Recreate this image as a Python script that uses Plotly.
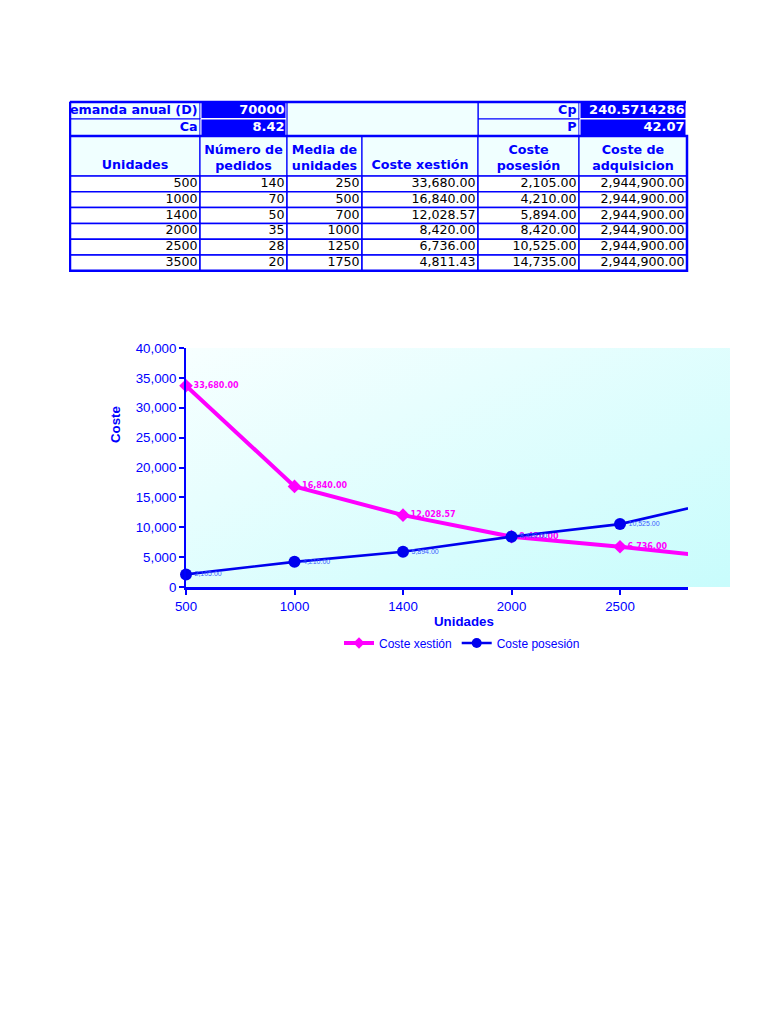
import base64
import plotly.graph_objects as go

# ---------------- data ----------------
units = [500, 1000, 1400, 2000, 2500, 3500]
num_pedidos = [140, 70, 50, 35, 28, 20]
media_unidades = [250, 500, 700, 1000, 1250, 1750]
coste_xestion = [33680.00, 16840.00, 12028.57, 8420.00, 6736.00, 4811.43]
coste_posesion = [2105.00, 4210.00, 5894.00, 8420.00, 10525.00, 14735.00]
coste_adquisicion = [2944900.00, 2944900.00, 2944900.00, 2944900.00, 2944900.00, 2944900.00]

param_labels_left = ["Demanda anual (D)", "Ca"]
param_values_left = ["70000", "8.42"]
param_labels_right = ["Cp", "P"]
param_values_right = ["240.5714286", "42.07"]

header = ["Unidades", "Número de<br>pedidos", "Media de<br>unidades",
          "Coste xestión", "Coste<br>posesión", "Coste de<br>adquisicion"]
series_names = ["Coste xestión", "Coste posesión"]
y_ticks = [0, 5000, 10000, 15000, 20000, 25000, 30000, 35000, 40000]

# ---------------- layout constants (pixels in the page) ----------------
BODY = 8                      # page body margin around the figure div
W, H = 768 - BODY, 1024 - BODY
BLUE = "#0000ff"
LIGHT = "#f0ffff"
PINK = "#ff00ff"
LINE_BLUE = "#0000ee"

TX0 = 70
col_widths = [130, 87, 75, 116, 101, 108]
col_edges = [TX0]
for w in col_widths:
    col_edges.append(col_edges[-1] + w)
TY0 = 102
param_h = 17
header_h = 40
data_h = 15.8
row_param_edges = [TY0, TY0 + param_h, TY0 + 2 * param_h]
header_top = row_param_edges[-1]
header_bot = header_top + header_h
data_edges = [header_bot + i * data_h for i in range(len(units) + 1)]
table_bottom = data_edges[-1]
PAD = 2.5


def px(x):
    return (x - BODY) / W


def py(y):
    return 1 - (y - BODY) / H


fig = go.Figure()
shapes = []


def rect(x0, y0, x1, y1, fill, line_color=BLUE, lw=1.2, layer="below"):
    shapes.append(dict(type="rect", xref="x2", yref="y2", x0=x0, y0=y0, x1=x1, y1=y1,
                       fillcolor=fill, line=dict(color=line_color, width=lw), layer=layer))


# parameter rows
for r in range(2):
    y0, y1 = row_param_edges[r], row_param_edges[r + 1]
    rect(col_edges[0], y0, col_edges[1], y1, LIGHT)
    rect(col_edges[1] + 1, y0, col_edges[2] - 1, y1 - 0.5, BLUE, line_color="white", lw=1)
    rect(col_edges[4], y0, col_edges[5], y1, LIGHT)
    rect(col_edges[5] + 1, y0, col_edges[6] - 1, y1 - 0.5, BLUE, line_color="white", lw=1)
# merged empty cell
rect(col_edges[2], row_param_edges[0], col_edges[4], row_param_edges[2], LIGHT)
# header
for c in range(6):
    rect(col_edges[c], header_top, col_edges[c + 1], header_bot, LIGHT)
# data rows
for r in range(len(units)):
    for c in range(6):
        rect(col_edges[c], data_edges[r], col_edges[c + 1], data_edges[r + 1], "white", lw=1.5)
# outer borders
shapes.append(dict(type="rect", xref="x2", yref="y2", x0=col_edges[0], y0=header_top,
                   x1=col_edges[-1], y1=table_bottom, line=dict(color=BLUE, width=2.5),
                   fillcolor="rgba(0,0,0,0)", layer="above"))
shapes.append(dict(type="line", xref="x2", yref="y2", x0=col_edges[0], y0=TY0,
                   x1=col_edges[0], y1=header_top, line=dict(color=BLUE, width=2.5), layer="above"))
shapes.append(dict(type="line", xref="x2", yref="y2", x0=col_edges[0], y0=TY0,
                   x1=col_edges[-1] - 1, y1=TY0, line=dict(color=BLUE, width=2.5), layer="above"))

FONT = "DejaVu Sans"


def text_trace(xs, ys, texts, color, bold=False, pos="middle left", size=12.6):
    fig.add_trace(go.Scatter(x=xs, y=ys, text=texts, mode="text", textposition=pos,
                             textfont=dict(family=FONT, size=size, color=color,
                                           weight="bold" if bold else "normal"),
                             xaxis="x2", yaxis="y2", showlegend=False, hoverinfo="skip",
                             cliponaxis=True))


pr_mid = [(row_param_edges[i] + row_param_edges[i + 1]) / 2 for i in range(2)]
text_trace([col_edges[1] - PAD] * 2, pr_mid, param_labels_left, BLUE, bold=True, size=12.7)
text_trace([col_edges[2] - PAD] * 2, pr_mid, param_values_left, "white", bold=True, size=13)
text_trace([col_edges[5] - PAD] * 2, pr_mid, param_labels_right, BLUE, bold=True, size=12.7)
text_trace([col_edges[6] - PAD] * 2, pr_mid, param_values_right, "white", bold=True, size=13)

# header
hx = [(col_edges[c] + col_edges[c + 1]) / 2 for c in range(6)]
hy = [header_bot - 10 if "<br>" not in h else header_bot - 17 for h in header]
text_trace(hx, hy, header, BLUE, bold=True, pos="middle center", size=12.7)

# data cells
columns = [
    [str(v) for v in units],
    [str(v) for v in num_pedidos],
    [str(v) for v in media_unidades],
    [f"{v:,.2f}" for v in coste_xestion],
    [f"{v:,.2f}" for v in coste_posesion],
    [f"{v:,.2f}" for v in coste_adquisicion],
]
dy = [(data_edges[i] + data_edges[i + 1]) / 2 for i in range(len(units))]
for c, col in enumerate(columns):
    text_trace([col_edges[c + 1] - PAD] * len(col), dy, col, "black")

# ---------------- chart ----------------
CX0, CX1, CBG1 = 186, 688, 730
CY0, CY1 = 348, 587  # top (40000), bottom (0)
cat_step = 108.5
x_max = (CX1 - CX0) / cat_step
cats = [str(u) for u in units]
visible = [i <= x_max for i in range(len(units))]

fig.add_trace(go.Scatter(
    x=cats, y=coste_xestion, name=series_names[0], mode="lines+markers+text",
    line=dict(color=PINK, width=4),
    marker=dict(symbol="diamond", size=[10.5 if v else 0 for v in visible], color=PINK,
                opacity=1, line=dict(width=0)),
    text=[f"{v:,.2f}" if vis else "" for v, vis in zip(coste_xestion, visible)],
    textposition="middle right",
    textfont=dict(family="DejaVu Sans", size=8, color=PINK, weight="bold"),
    cliponaxis=False, xaxis="x", yaxis="y"))
fig.add_trace(go.Scatter(
    x=cats, y=coste_posesion, name=series_names[1], mode="lines+markers+text",
    line=dict(color=LINE_BLUE, width=2.6),
    marker=dict(symbol="circle", size=[12 if v else 0 for v in visible], color=LINE_BLUE,
                opacity=1, line=dict(width=0)),
    text=[f"{v:,.2f}" if vis else "" for v, vis in zip(coste_posesion, visible)],
    textposition="middle right",
    textfont=dict(family="Liberation Sans", size=7, color="#3a5cff"),
    cliponaxis=False, xaxis="x", yaxis="y"))

# gradient background
svg = ('<svg xmlns="http://www.w3.org/2000/svg" width="544" height="239" '
       'preserveAspectRatio="none"><defs><linearGradient id="g" x1="0" y1="0" x2="1" y2="1">'
       '<stop offset="0" stop-color="#f7ffff"/><stop offset="1" stop-color="#c8fcfc"/>'
       '</linearGradient></defs><rect width="544" height="239" fill="url(#g)"/></svg>')
svg_uri = "data:image/svg+xml;base64," + base64.b64encode(svg.encode()).decode()

AXFONT = dict(family="Liberation Sans", size=13.3, color=BLUE)
LEGFONT = dict(family="Liberation Sans", size=12, color=BLUE)

fig.update_layout(
    width=W, height=H, margin=dict(l=0, r=0, t=0, b=0, pad=0, autoexpand=False),
    paper_bgcolor="white", plot_bgcolor="rgba(0,0,0,0)",
    showlegend=True,
    legend=dict(orientation="h", x=px(462), xanchor="center", y=py(643), yanchor="middle",
                font=LEGFONT, bgcolor="rgba(0,0,0,0)", itemwidth=30),
    xaxis=dict(domain=[px(CX0), px(CX1)], type="category", range=[0, x_max],
               tickvals=cats[:5], ticktext=cats[:5], automargin=False,
               showline=True, linecolor=BLUE, linewidth=3, ticks="outside", ticklen=5,
               tickwidth=2, tickcolor=BLUE, showgrid=False, zeroline=False,
               tickfont=AXFONT, anchor="y", fixedrange=True),
    yaxis=dict(domain=[py(CY1), py(CY0)], range=[0, 40000], tickvals=y_ticks,
               tickformat=",", showline=True, linecolor=BLUE, linewidth=2, automargin=False,
               ticks="outside", ticklen=5, tickwidth=2, tickcolor=BLUE,
               showgrid=False, zeroline=False, tickfont=AXFONT, anchor="x", fixedrange=True),
    xaxis2=dict(domain=[px(69), px(690)], range=[69, 690], visible=False, anchor="y2",
                fixedrange=True, automargin=False),
    yaxis2=dict(domain=[py(274), py(100)], range=[274, 100], visible=False, anchor="x2",
                fixedrange=True, automargin=False),
    images=[dict(source=svg_uri, xref="paper", yref="paper", x=px(CX0), y=py(CY0),
                 sizex=px(CBG1) - px(CX0), sizey=py(CY0) - py(CY1), sizing="stretch",
                 xanchor="left", yanchor="top", layer="below")],
    shapes=shapes,
    annotations=[
        dict(text="<b>Unidades</b>", x=px(464), y=py(621), xref="paper", yref="paper",
             showarrow=False, font=AXFONT, xanchor="center", yanchor="middle"),
        dict(text="<b>Coste</b>", x=px(116), y=py(425), xref="paper", yref="paper",
             showarrow=False, font=AXFONT, textangle=-90, xanchor="center", yanchor="middle"),
    ],
)

fig.write_html("out.html")
